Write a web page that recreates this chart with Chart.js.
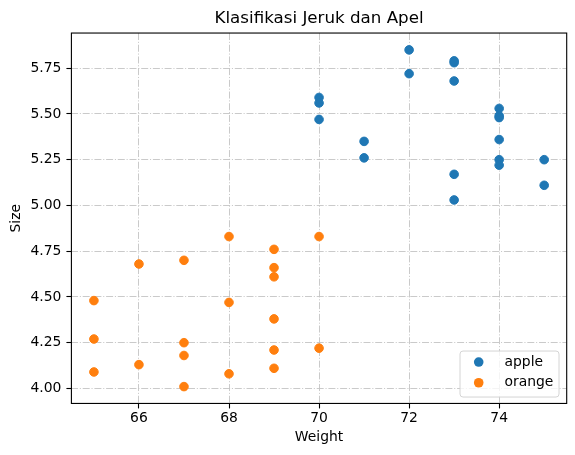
<!DOCTYPE html>
<html>
<head>
<meta charset="utf-8">
<script src="https://cdn.jsdelivr.net/npm/chart.js@4"></script>
<style>
  html, body { margin: 0; padding: 0; background: #fff; }
</style>
</head>
<body>
<canvas id="scatterChart" width="575" height="455"></canvas>
<script>
// data
const appleWeight = [70, 70, 70, 71, 71, 72, 72, 73, 73, 73, 73, 73, 74, 74, 74, 74, 74, 74, 75, 75];
const appleSize = [5.59, 5.56, 5.47, 5.35, 5.26, 5.85, 5.72, 5.79, 5.78, 5.68, 5.17, 5.03, 5.53, 5.49, 5.48, 5.36, 5.25, 5.22, 5.25, 5.11];
const orangeWeight = [65, 65, 65, 66, 66, 67, 67, 67, 67, 68, 68, 68, 69, 69, 69, 69, 69, 69, 70, 70];
const orangeSize = [4.48, 4.27, 4.09, 4.68, 4.13, 4.70, 4.25, 4.18, 4.01, 4.83, 4.47, 4.08, 4.76, 4.66, 4.61, 4.38, 4.21, 4.11, 4.83, 4.22];
const seriesLabels = ["apple", "orange"];
const seriesColors = ["#1f77b4", "#ff7f0e"];
const xTicks = [66, 68, 70, 72, 74];
const yTicks = [4.00, 4.25, 4.50, 4.75, 5.00, 5.25, 5.50, 5.75];

const toPoints = (xs, ys) => xs.map((x, i) => ({ x, y: ys[i] }));

// matplotlib style 5% margins around the data
function paddedRange(values) {
  const lo = Math.min(...values), hi = Math.max(...values);
  const m = (hi - lo) * 0.05;
  return [lo - m, hi + m];
}
const [xMin, xMax] = paddedRange(appleWeight.concat(orangeWeight));
const [yMin, yMax] = paddedRange(appleSize.concat(orangeSize));

Chart.defaults.font.family = "'DejaVu Sans', sans-serif";
Chart.defaults.color = "#000";

const gridDash = [7, 1.8, 1.1, 1.8];
const tickFont = { size: 13.9 };

// full box frame + legend in the lower right corner
const framePlugin = {
  id: "frame",
  afterDraw(chart) {
    const { ctx, chartArea: a } = chart;
    ctx.save();
    ctx.strokeStyle = "#000";
    ctx.lineWidth = 1.1;
    ctx.strokeRect(a.left, a.top, a.right - a.left, a.bottom - a.top);

    ctx.font = "13.9px 'DejaVu Sans'";
    const textW = Math.max(...seriesLabels.map(l => ctx.measureText(l).width));
    const w = 5.6 + 27.8 + 11.1 + textW + 5.6;
    const h = 46;
    const x0 = a.right - 7.7 - w;
    const y0 = a.bottom - 6.4 - h;
    ctx.beginPath();
    ctx.roundRect(x0, y0, w, h, 3);
    ctx.fillStyle = "rgba(255,255,255,0.8)";
    ctx.fill();
    ctx.strokeStyle = "#d4d4d4";
    ctx.lineWidth = 1;
    ctx.stroke();
    ctx.textBaseline = "middle";
    ctx.textAlign = "left";
    seriesLabels.forEach((label, i) => {
      const cy = y0 + 11 + i * 20.7;
      ctx.beginPath();
      ctx.arc(x0 + 18.7, cy, 4.8, 0, Math.PI * 2);
      ctx.fillStyle = seriesColors[i];
      ctx.fill();
      ctx.fillStyle = "#000";
      ctx.fillText(label, x0 + 44.5, cy);
    });
    ctx.restore();
  }
};

const ctx = document.getElementById("scatterChart").getContext("2d");
new Chart(ctx, {
  type: "scatter",
  data: {
    datasets: [
      {
        label: seriesLabels[0],
        data: toPoints(appleWeight, appleSize),
        backgroundColor: seriesColors[0],
        borderColor: seriesColors[0],
        borderWidth: 1,
        pointRadius: 4.3
      },
      {
        label: seriesLabels[1],
        data: toPoints(orangeWeight, orangeSize),
        backgroundColor: seriesColors[1],
        borderColor: seriesColors[1],
        borderWidth: 1,
        pointRadius: 4.3
      }
    ]
  },
  options: {
    responsive: false,
    animation: false,
    layout: { padding: { left: 0, right: 8.3, top: 0, bottom: 0 } },
    plugins: {
      legend: { display: false },
      tooltip: { enabled: false },
      title: {
        display: true,
        text: "Klasifikasi Jeruk dan Apel",
        fullSize: false,
        color: "#000",
        font: { size: 16.7, weight: "normal" },
        padding: { top: 8.5, bottom: 4.5 }
      }
    },
    scales: {
      x: {
        type: "linear",
        min: xMin,
        max: xMax,
        afterBuildTicks: axis => { axis.ticks = xTicks.map(v => ({ value: v })); },
        ticks: { font: tickFont, color: "#000", padding: 2, maxRotation: 0, autoSkip: false },
        grid: {
          color: "#c4c4c4",
          lineWidth: 0.9,
          tickLength: 5,
          tickColor: "#000",
          tickWidth: 1.1,
          tickBorderDash: []
        },
        border: { display: false, dash: gridDash },
        title: {
          display: true,
          text: "Weight",
          color: "#000",
          font: { size: 13.9 },
          padding: { top: 0, bottom: 9.2 }
        }
      },
      y: {
        type: "linear",
        min: yMin,
        max: yMax,
        afterBuildTicks: axis => { axis.ticks = yTicks.map(v => ({ value: v })); },
        ticks: { font: tickFont, color: "#000", padding: 5, callback: v => v.toFixed(2) },
        grid: {
          color: "#c4c4c4",
          lineWidth: 0.9,
          tickLength: 5,
          tickColor: "#000",
          tickWidth: 1.1,
          tickBorderDash: []
        },
        border: { display: false, dash: gridDash },
        title: {
          display: true,
          text: "Size",
          color: "#000",
          font: { size: 13.9 },
          padding: { top: 8, bottom: 0.8 }
        }
      }
    }
  },
  plugins: [framePlugin]
});
</script>
</body>
</html>
